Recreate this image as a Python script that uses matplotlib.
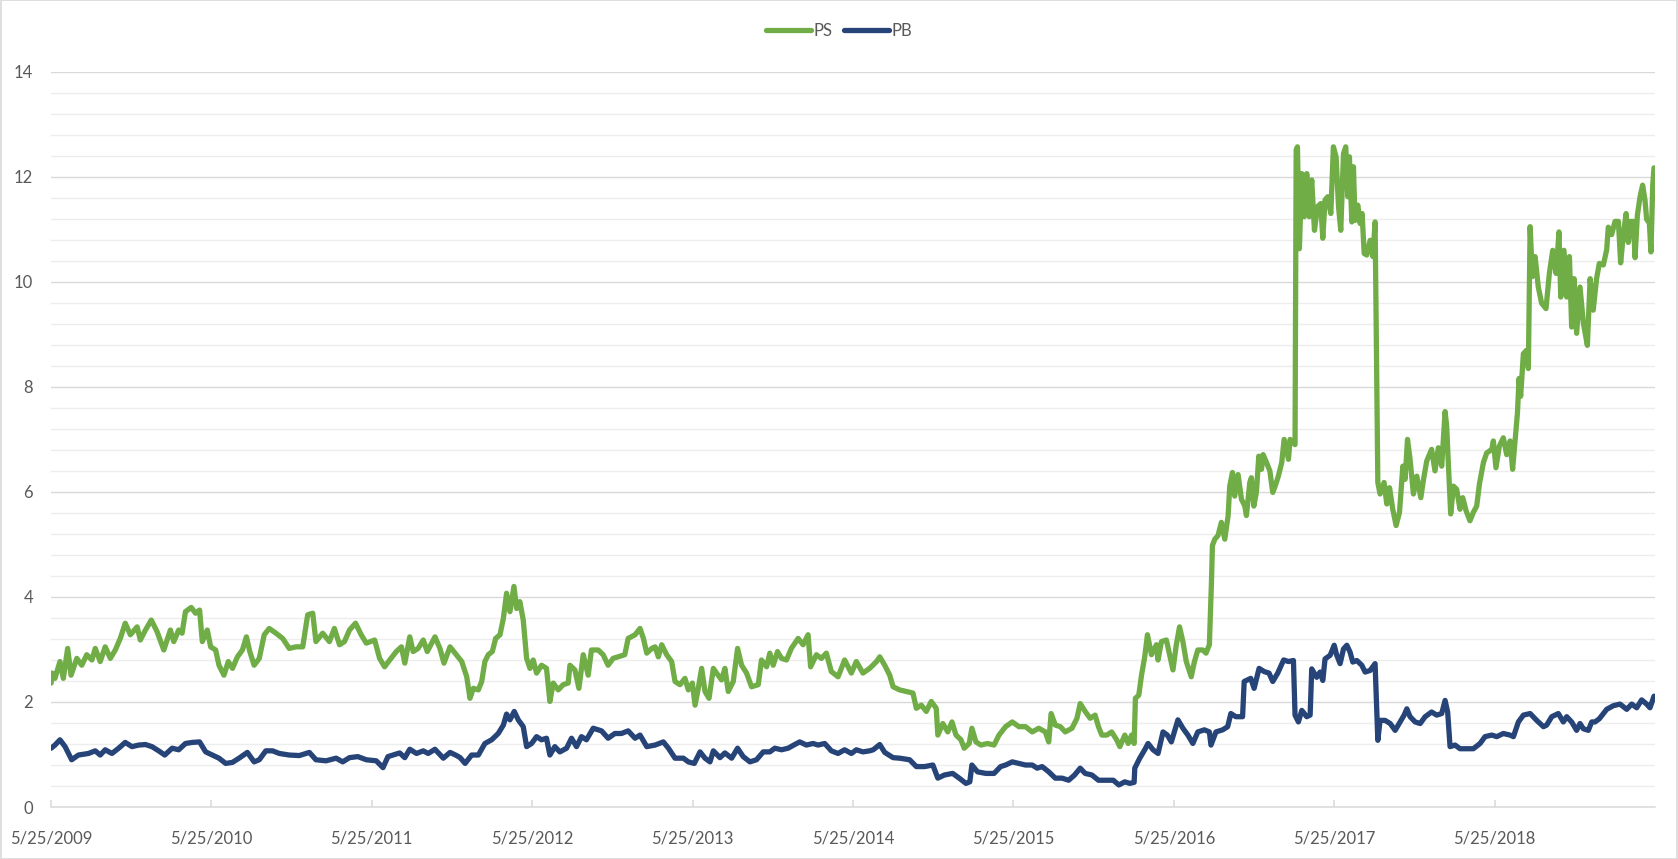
import matplotlib
matplotlib.use("Agg")
import matplotlib.pyplot as plt
from matplotlib.patches import Rectangle
from matplotlib.ticker import MultipleLocator
import pandas as pd

# values, x as decimal year
ps_year = [
    2009.395, 2009.402, 2009.419, 2009.450, 2009.471, 2009.498, 2009.519, 2009.555, 2009.586, 2009.617,
    2009.649, 2009.670, 2009.701, 2009.732, 2009.764, 2009.795, 2009.826, 2009.857, 2009.889, 2009.931,
    2009.951, 2009.983, 2010.020, 2010.056, 2010.098, 2010.139, 2010.160, 2010.191, 2010.212, 2010.233,
    2010.269, 2010.296, 2010.321, 2010.338, 2010.369, 2010.390, 2010.421, 2010.442, 2010.473, 2010.500,
    2010.526, 2010.557, 2010.588, 2010.613, 2010.634, 2010.661, 2010.693, 2010.724, 2010.755, 2010.797,
    2010.839, 2010.880, 2010.922, 2010.964, 2010.995, 2011.027, 2011.047, 2011.089, 2011.131, 2011.162,
    2011.194, 2011.225, 2011.256, 2011.294, 2011.329, 2011.361, 2011.413, 2011.444, 2011.475, 2011.507,
    2011.548, 2011.580, 2011.601, 2011.632, 2011.653, 2011.684, 2011.716, 2011.741, 2011.768, 2011.789,
    2011.820, 2011.845, 2011.883, 2011.914, 2011.956, 2011.987, 2012.008, 2012.029, 2012.060, 2012.081,
    2012.101, 2012.122, 2012.147, 2012.168, 2012.195, 2012.216, 2012.236, 2012.257, 2012.282, 2012.299,
    2012.319, 2012.340, 2012.361, 2012.382, 2012.402, 2012.423, 2012.454, 2012.485, 2012.506, 2012.527,
    2012.558, 2012.589, 2012.620, 2012.631, 2012.662, 2012.687, 2012.714, 2012.745, 2012.765, 2012.807,
    2012.838, 2012.869, 2012.900, 2012.931, 2012.973, 2012.994, 2013.035, 2013.066, 2013.087, 2013.108,
    2013.139, 2013.160, 2013.180, 2013.201, 2013.232, 2013.263, 2013.284, 2013.315, 2013.346, 2013.367,
    2013.392, 2013.409, 2013.429, 2013.450, 2013.471, 2013.496, 2013.523, 2013.543, 2013.574, 2013.595,
    2013.616, 2013.647, 2013.674, 2013.699, 2013.730, 2013.761, 2013.803, 2013.823, 2013.855, 2013.875,
    2013.896, 2013.923, 2013.948, 2013.979, 2014.010, 2014.052, 2014.083, 2014.114, 2014.130, 2014.166,
    2014.197, 2014.228, 2014.259, 2014.301, 2014.342, 2014.384, 2014.415, 2014.456, 2014.498, 2014.541,
    2014.561, 2014.592, 2014.623, 2014.644, 2014.685, 2014.727, 2014.768, 2014.789, 2014.820, 2014.851,
    2014.882, 2014.913, 2014.923, 2014.954, 2014.985, 2015.012, 2015.037, 2015.068, 2015.088, 2015.119,
    2015.136, 2015.161, 2015.192, 2015.233, 2015.274, 2015.305, 2015.346, 2015.388, 2015.429, 2015.470,
    2015.512, 2015.553, 2015.594, 2015.615, 2015.630, 2015.656, 2015.687, 2015.718, 2015.760, 2015.791,
    2015.811, 2015.842, 2015.873, 2015.904, 2015.925, 2015.946, 2015.977, 2016.008, 2016.039, 2016.059,
    2016.090, 2016.111, 2016.132, 2016.148, 2016.156, 2016.177, 2016.194, 2016.214, 2016.231, 2016.256,
    2016.287, 2016.297, 2016.318, 2016.349, 2016.369, 2016.390, 2016.411, 2016.431, 2016.452, 2016.473,
    2016.504, 2016.524, 2016.545, 2016.576, 2016.596, 2016.617, 2016.630, 2016.636, 2016.651, 2016.671,
    2016.692, 2016.713, 2016.734, 2016.744, 2016.761, 2016.775, 2016.796, 2016.817, 2016.838, 2016.848,
    2016.869, 2016.879, 2016.894, 2016.910, 2016.925, 2016.942, 2016.952, 2016.973, 2016.994, 2017.010,
    2017.025, 2017.045, 2017.066, 2017.081, 2017.108, 2017.118, 2017.149, 2017.156, 2017.164, 2017.176,
    2017.191, 2017.206, 2017.222, 2017.237, 2017.253, 2017.270, 2017.289, 2017.309, 2017.322, 2017.336,
    2017.353, 2017.372, 2017.388, 2017.405, 2017.420, 2017.434, 2017.451, 2017.465, 2017.478, 2017.488,
    2017.503, 2017.513, 2017.523, 2017.540, 2017.555, 2017.567, 2017.580, 2017.596, 2017.617, 2017.634,
    2017.648, 2017.665, 2017.679, 2017.704, 2017.721, 2017.738, 2017.758, 2017.779, 2017.800, 2017.821,
    2017.835, 2017.850, 2017.866, 2017.887, 2017.908, 2017.933, 2017.950, 2017.970, 2018.001, 2018.022,
    2018.043, 2018.064, 2018.085, 2018.095, 2018.105, 2018.120, 2018.137, 2018.157, 2018.178, 2018.195,
    2018.216, 2018.240, 2018.261, 2018.282, 2018.299, 2018.324, 2018.344, 2018.376, 2018.386, 2018.402,
    2018.423, 2018.448, 2018.469, 2018.490, 2018.506, 2018.521, 2018.536, 2018.546, 2018.556, 2018.573,
    2018.594, 2018.604, 2018.615, 2018.629, 2018.646, 2018.666, 2018.687, 2018.714, 2018.735, 2018.756,
    2018.777, 2018.795, 2018.806, 2018.826, 2018.843, 2018.860, 2018.874, 2018.889, 2018.905, 2018.926,
    2018.947, 2018.972, 2018.989, 2019.009, 2019.030, 2019.047, 2019.072, 2019.093, 2019.103, 2019.124,
    2019.145, 2019.166, 2019.180, 2019.197, 2019.214, 2019.228, 2019.243, 2019.259, 2019.270, 2019.284,
    2019.301, 2019.317, 2019.332, 2019.342, 2019.359, 2019.369, 2019.380, 2019.388,
]
ps_val = [
    2.36, 2.55, 2.45, 2.77, 2.45, 3.02, 2.51, 2.83, 2.70, 2.90,
    2.80, 3.02, 2.77, 3.05, 2.83, 2.99, 3.21, 3.50, 3.28, 3.43,
    3.18, 3.37, 3.56, 3.34, 2.99, 3.37, 3.15, 3.37, 3.31, 3.72,
    3.80, 3.69, 3.75, 3.15, 3.37, 3.05, 2.99, 2.70, 2.51, 2.77,
    2.64, 2.86, 2.99, 3.24, 2.96, 2.70, 2.83, 3.28, 3.40, 3.31,
    3.21, 3.02, 3.05, 3.05, 3.66, 3.69, 3.15, 3.31, 3.15, 3.40,
    3.09, 3.15, 3.37, 3.50, 3.28, 3.12, 3.18, 2.83, 2.67, 2.80,
    2.96, 3.05, 2.74, 3.24, 2.96, 3.02, 3.18, 2.96, 3.12, 3.24,
    3.02, 2.74, 3.05, 2.93, 2.77, 2.48, 2.07, 2.26, 2.23, 2.39,
    2.77, 2.90, 2.96, 3.21, 3.28, 3.59, 4.07, 3.72, 4.20, 3.78,
    3.91, 3.56, 2.83, 2.64, 2.80, 2.55, 2.70, 2.64, 2.01, 2.36,
    2.23, 2.33, 2.36, 2.70, 2.61, 2.26, 2.90, 2.51, 2.99, 2.99,
    2.90, 2.70, 2.83, 2.86, 2.90, 3.21, 3.28, 3.40, 3.21, 2.93,
    3.02, 3.05, 2.86, 3.09, 2.90, 2.77, 2.39, 2.33, 2.45, 2.23,
    2.36, 1.94, 2.26, 2.64, 2.20, 2.07, 2.64, 2.55, 2.42, 2.64,
    2.20, 2.39, 3.02, 2.70, 2.55, 2.29, 2.33, 2.80, 2.67, 2.93,
    2.70, 2.96, 2.83, 2.80, 3.02, 3.21, 3.09, 3.28, 2.67, 2.90,
    2.83, 2.93, 2.58, 2.48, 2.80, 2.55, 2.77, 2.55, 2.64, 2.77,
    2.86, 2.70, 2.51, 2.29, 2.23, 2.20, 2.17, 1.88, 1.94, 1.82,
    2.01, 1.88, 1.37, 1.59, 1.43, 1.62, 1.37, 1.28, 1.12, 1.21,
    1.50, 1.24, 1.18, 1.21, 1.18, 1.37, 1.53, 1.62, 1.53, 1.53,
    1.43, 1.50, 1.43, 1.24, 1.78, 1.56, 1.53, 1.43, 1.50, 1.69,
    1.97, 1.82, 1.69, 1.75, 1.53, 1.37, 1.37, 1.43, 1.28, 1.15,
    1.37, 1.21, 1.37, 1.21, 2.07, 2.13, 2.51, 2.86, 3.28, 2.90,
    3.09, 2.80, 3.15, 3.18, 2.90, 2.61, 3.09, 3.43, 3.15, 2.77,
    2.48, 2.77, 2.99, 2.99, 2.93, 3.09, 4.28, 4.98, 5.10, 5.17,
    5.42, 5.10, 5.55, 6.11, 6.37, 5.92, 6.33, 5.86, 5.73, 5.55,
    6.18, 6.27, 5.73, 5.99, 6.68, 6.43, 6.71, 6.56, 6.40, 5.99,
    6.11, 6.30, 6.56, 7.00, 6.62, 7.00, 6.90, 12.51, 12.57, 10.63,
    12.06, 11.24, 12.06, 11.24, 11.94, 10.98, 11.43, 11.49, 10.83, 11.56,
    11.62, 11.30, 12.57, 12.38, 11.43, 10.98, 12.44, 12.57, 11.62, 12.38,
    11.14, 12.19, 11.17, 11.46, 11.11, 11.30, 10.54, 10.51, 10.79, 10.48,
    11.14, 6.18, 5.96, 6.18, 5.77, 6.08, 5.67, 5.36, 5.61, 6.49,
    6.24, 7.00, 6.62, 5.96, 6.30, 5.89, 6.24, 6.59, 6.81, 6.40,
    6.84, 6.49, 7.53, 7.25, 6.56, 5.58, 6.11, 6.05, 5.67, 5.89,
    5.64, 5.45, 5.61, 5.73, 6.15, 6.56, 6.74, 6.81, 6.97, 6.46,
    6.87, 7.03, 6.71, 6.97, 6.43, 6.97, 7.50, 8.16, 7.82, 8.63,
    8.70, 8.35, 11.05, 10.10, 10.48, 9.90, 9.59, 9.49, 10.16, 10.60,
    10.16, 10.95, 9.71, 10.60, 9.71, 10.48, 9.14, 10.06, 9.02, 9.90,
    9.21, 8.79, 10.06, 9.46, 10.06, 10.35, 10.32, 10.61, 11.04, 10.90,
    11.15, 11.15, 10.36, 10.90, 11.30, 10.75, 11.15, 11.15, 10.46, 11.26,
    11.62, 11.84, 11.55, 11.19, 11.12, 10.57, 11.84, 12.17,
]

pb_year = [
    2009.395, 2009.419, 2009.450, 2009.482, 2009.523, 2009.565, 2009.628, 2009.670, 2009.701, 2009.732,
    2009.774, 2009.816, 2009.857, 2009.899, 2009.941, 2009.983, 2010.024, 2010.066, 2010.104, 2010.150,
    2010.191, 2010.233, 2010.275, 2010.321, 2010.359, 2010.400, 2010.442, 2010.484, 2010.526, 2010.567,
    2010.619, 2010.661, 2010.693, 2010.734, 2010.776, 2010.818, 2010.880, 2010.943, 2011.006, 2011.047,
    2011.110, 2011.173, 2011.214, 2011.256, 2011.308, 2011.361, 2011.423, 2011.465, 2011.496, 2011.538,
    2011.569, 2011.601, 2011.632, 2011.674, 2011.716, 2011.747, 2011.789, 2011.841, 2011.883, 2011.924,
    2011.946, 2011.977, 2012.018, 2012.060, 2012.101, 2012.143, 2012.184, 2012.216, 2012.236, 2012.257,
    2012.284, 2012.309, 2012.340, 2012.361, 2012.392, 2012.423, 2012.454, 2012.485, 2012.506, 2012.537,
    2012.568, 2012.610, 2012.641, 2012.672, 2012.703, 2012.734, 2012.776, 2012.828, 2012.869, 2012.911,
    2012.952, 2012.994, 2013.035, 2013.066, 2013.108, 2013.160, 2013.211, 2013.243, 2013.284, 2013.336,
    2013.367, 2013.404, 2013.440, 2013.471, 2013.502, 2013.523, 2013.564, 2013.595, 2013.637, 2013.674,
    2013.709, 2013.751, 2013.792, 2013.834, 2013.875, 2013.906, 2013.948, 2013.989, 2014.031, 2014.062,
    2014.104, 2014.145, 2014.176, 2014.218, 2014.259, 2014.301, 2014.342, 2014.384, 2014.415, 2014.456,
    2014.498, 2014.520, 2014.561, 2014.592, 2014.644, 2014.685, 2014.747, 2014.789, 2014.840, 2014.892,
    2014.923, 2014.964, 2015.016, 2015.057, 2015.099, 2015.123, 2015.136, 2015.171, 2015.223, 2015.274,
    2015.315, 2015.346, 2015.388, 2015.429, 2015.470, 2015.512, 2015.543, 2015.574, 2015.615, 2015.656,
    2015.698, 2015.739, 2015.776, 2015.811, 2015.842, 2015.884, 2015.925, 2015.966, 2016.018, 2016.053,
    2016.090, 2016.121, 2016.148, 2016.152, 2016.183, 2016.214, 2016.235, 2016.266, 2016.297, 2016.328,
    2016.355, 2016.380, 2016.421, 2016.452, 2016.483, 2016.514, 2016.545, 2016.586, 2016.617, 2016.627,
    2016.658, 2016.700, 2016.731, 2016.751, 2016.782, 2016.824, 2016.834, 2016.875, 2016.896, 2016.927,
    2016.958, 2016.989, 2017.010, 2017.041, 2017.078, 2017.108, 2017.139, 2017.149, 2017.170, 2017.191,
    2017.222, 2017.243, 2017.253, 2017.284, 2017.305, 2017.322, 2017.336, 2017.368, 2017.393, 2017.409,
    2017.430, 2017.451, 2017.472, 2017.492, 2017.509, 2017.534, 2017.565, 2017.586, 2017.617, 2017.648,
    2017.665, 2017.679, 2017.710, 2017.742, 2017.773, 2017.804, 2017.829, 2017.846, 2017.866, 2017.898,
    2017.929, 2017.960, 2018.001, 2018.033, 2018.064, 2018.085, 2018.101, 2018.116, 2018.147, 2018.178,
    2018.220, 2018.261, 2018.303, 2018.334, 2018.376, 2018.407, 2018.448, 2018.490, 2018.511, 2018.542,
    2018.573, 2018.615, 2018.656, 2018.698, 2018.718, 2018.750, 2018.791, 2018.822, 2018.843, 2018.874,
    2018.905, 2018.926, 2018.947, 2018.978, 2018.999, 2019.020, 2019.047, 2019.093, 2019.135, 2019.176,
    2019.218, 2019.249, 2019.280, 2019.311, 2019.342, 2019.363, 2019.388,
]
pb_val = [
    1.12, 1.18, 1.28, 1.15, 0.90, 0.99, 1.02, 1.07, 0.99, 1.09,
    1.02, 1.12, 1.23, 1.15, 1.18, 1.19, 1.15, 1.07, 0.99, 1.12,
    1.09, 1.21, 1.23, 1.24, 1.05, 0.99, 0.93, 0.83, 0.85, 0.93,
    1.04, 0.86, 0.90, 1.07, 1.07, 1.02, 0.99, 0.98, 1.04, 0.90,
    0.88, 0.93, 0.86, 0.94, 0.96, 0.90, 0.88, 0.75, 0.96, 1.00,
    1.03, 0.94, 1.10, 1.02, 1.07, 1.02, 1.10, 0.93, 1.04, 0.98,
    0.94, 0.83, 0.99, 0.99, 1.21, 1.28, 1.40, 1.56, 1.77, 1.66,
    1.82, 1.66, 1.53, 1.15, 1.21, 1.34, 1.28, 1.31, 0.99, 1.15,
    1.05, 1.12, 1.31, 1.15, 1.34, 1.28, 1.50, 1.45, 1.31, 1.40,
    1.40, 1.45, 1.31, 1.37, 1.15, 1.18, 1.24, 1.12, 0.93, 0.93,
    0.86, 0.83, 1.05, 0.93, 0.86, 1.07, 0.94, 1.03, 0.93, 1.12,
    0.96, 0.86, 0.90, 1.05, 1.05, 1.12, 1.09, 1.12, 1.19, 1.24,
    1.18, 1.21, 1.18, 1.21, 1.07, 1.02, 1.09, 1.02, 1.09, 1.05,
    1.07, 1.09, 1.19, 1.04, 0.94, 0.93, 0.90, 0.77, 0.77, 0.80,
    0.55, 0.61, 0.64, 0.55, 0.45, 0.48, 0.80, 0.67, 0.64, 0.64,
    0.77, 0.80, 0.86, 0.83, 0.80, 0.80, 0.74, 0.77, 0.67, 0.55,
    0.55, 0.51, 0.61, 0.74, 0.64, 0.61, 0.51, 0.51, 0.51, 0.42,
    0.48, 0.45, 0.47, 0.74, 0.93, 1.09, 1.21, 1.09, 1.02, 1.43,
    1.37, 1.24, 1.66, 1.50, 1.37, 1.21, 1.43, 1.47, 1.43, 1.18,
    1.43, 1.47, 1.53, 1.78, 1.72, 1.72, 2.39, 2.45, 2.26, 2.64,
    2.58, 2.55, 2.39, 2.55, 2.80, 2.77, 2.79, 1.75, 1.62, 1.84,
    1.72, 1.75, 2.63, 2.47, 2.57, 2.41, 2.82, 2.89, 3.08, 2.89,
    2.73, 3.01, 3.08, 2.95, 2.76, 2.79, 2.70, 2.57, 2.60, 2.73,
    1.27, 1.65, 1.65, 1.59, 1.46, 1.62, 1.75, 1.87, 1.72, 1.62,
    1.59, 1.72, 1.81, 1.75, 1.78, 2.03, 1.81, 1.15, 1.18, 1.11,
    1.11, 1.11, 1.21, 1.34, 1.37, 1.34, 1.40, 1.37, 1.34, 1.62,
    1.75, 1.78, 1.65, 1.53, 1.56, 1.72, 1.78, 1.62, 1.72, 1.62,
    1.46, 1.59, 1.49, 1.46, 1.62, 1.62, 1.68, 1.86, 1.93, 1.96,
    1.86, 1.96, 1.89, 2.04, 1.96, 1.89, 2.11,
]

tick_dates = ["2009-05-25", "2010-05-25", "2011-05-25", "2012-05-25", "2013-05-25",
              "2014-05-25", "2015-05-25", "2016-05-25", "2017-05-25", "2018-05-25"]
tick_labels = ["5/25/2009", "5/25/2010", "5/25/2011", "5/25/2012", "5/25/2013",
               "5/25/2014", "5/25/2015", "5/25/2016", "5/25/2017", "5/25/2018"]


def to_dates(years):
    out = []
    for y in years:
        yr = int(y)
        out.append(pd.Timestamp(yr, 1, 1) + pd.Timedelta(days=(y - yr) * 365.25))
    return out


plt.rcParams['font.family'] = ['Lato', 'DejaVu Sans']

GREEN = "#70AD47"
NAVY = "#264478"
GRID = "#D9D9D9"
TXT = "#595959"

fig = plt.figure(figsize=(16.78, 8.59), dpi=100)
ax = fig.add_axes([0.0304, 0.0605, 0.9559, 0.856])

ax.plot(to_dates(ps_year), ps_val, color=GREEN, lw=3.8, label="PS",
        solid_joinstyle="round", solid_capstyle="round")
ax.plot(to_dates(pb_year), pb_val, color=NAVY, lw=3.8, label="PB",
        solid_joinstyle="round", solid_capstyle="round")

ax.set_ylim(0, 14)
ax.set_xlim(pd.Timestamp("2009-05-25"), pd.Timestamp("2019-05-25"))
ax.yaxis.set_major_locator(MultipleLocator(2))
ax.yaxis.set_minor_locator(MultipleLocator(0.4))
ax.grid(axis="y", which="major", color=GRID, lw=1.0)
ax.grid(axis="y", which="minor", color="#EDEDED", lw=1.0)
ax.set_axisbelow(True)

ax.set_xticks(pd.to_datetime(tick_dates))
ax.set_xticklabels(tick_labels)
ax.tick_params(axis="x", direction="in", length=5, width=1.1, color=GRID,
               labelsize=12, labelcolor=TXT, pad=17)
ax.tick_params(axis="y", which="both", length=0, labelsize=12, labelcolor=TXT, pad=13)

for side in ["top", "right", "left"]:
    ax.spines[side].set_visible(False)
ax.spines["bottom"].set_color(GRID)
ax.spines["bottom"].set_linewidth(1.1)

leg = fig.legend(loc="center", bbox_to_anchor=(0.5, 0.964), ncol=2, frameon=False,
                 fontsize=12, handlelength=2.7, handletextpad=0.15, columnspacing=0.7)
for t in leg.get_texts():
    t.set_color(TXT)

fig.patches.append(Rectangle((0.0005, 0.0005), 0.999, 0.999, transform=fig.transFigure,
                             fill=False, edgecolor=GRID, lw=1.2))

fig.savefig("out.png", dpi=100)
